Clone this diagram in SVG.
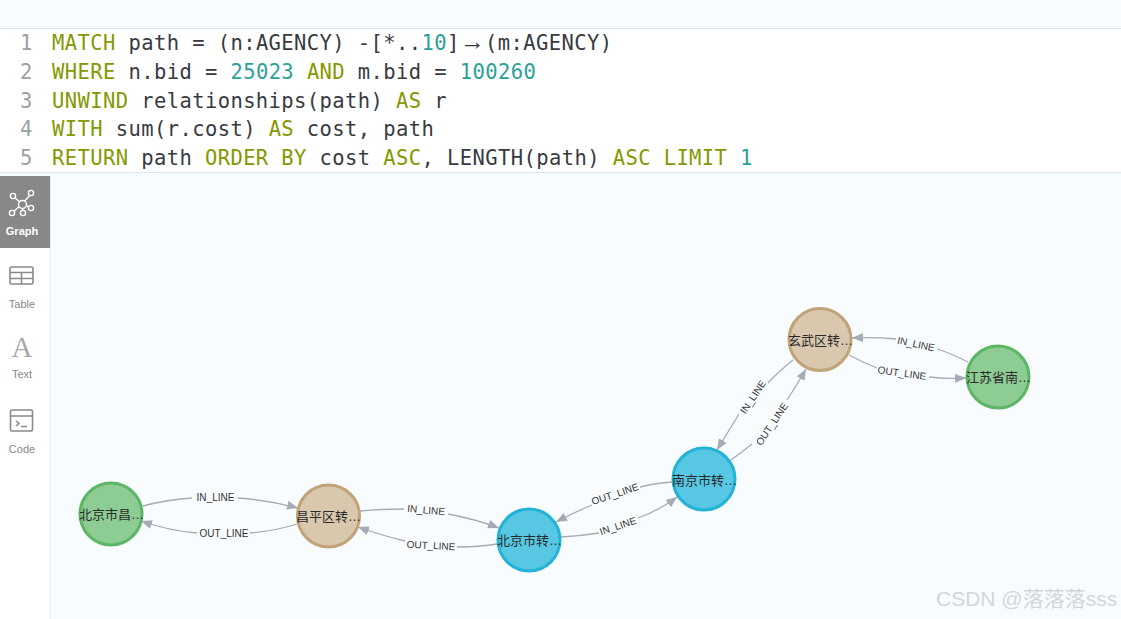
<svg xmlns="http://www.w3.org/2000/svg" width="1121" height="619" viewBox="0 0 1121 619">
<style>
.code{font-family:"DejaVu Sans Mono",monospace;font-size:20.5px;fill:#383a42;letter-spacing:.4px;white-space:pre}
.ln{font-family:"DejaVu Sans Mono",monospace;font-size:20.5px;fill:#9aa1a5}
.k{fill:#859900}.n{fill:#2aa198}
.side{font-family:"Liberation Sans",Arial,sans-serif;font-size:11px;fill:#888;text-anchor:middle}
.ic{fill:none;stroke:#8a8a8a;stroke-width:1.6}
.edge{fill:none;stroke:#a5abb6;stroke-width:1.3}
.arr{marker-end:url(#a)}
.el{font-family:"Liberation Sans",Arial,sans-serif;font-size:10px;fill:#333;text-anchor:middle;dominant-baseline:central}
.nl{font-family:"Liberation Sans","Noto Sans CJK SC",sans-serif;font-size:13px;fill:#2a2a2a;text-anchor:middle;dominant-baseline:central}
.g{fill:#8dcc93;stroke:#5db665;stroke-width:3}
.t{fill:#d9c8ae;stroke:#c0a378;stroke-width:3}
.b{fill:#57c7e3;stroke:#23b3d7;stroke-width:3}
</style>
<defs><marker id="a" markerUnits="userSpaceOnUse" markerWidth="12" markerHeight="10" refX="11" refY="5" orient="auto"><path d="M0 .5L11 5L0 9.500Z" fill="#a5abb6"/></marker></defs>
<rect width="1121" height="619" fill="#f9fcff"/>
<g id="editor">
<rect y="28" width="1121" height="144" fill="#fff"/>
<path d="M0 28.500H1121M0 172.500H1121" stroke="#dbe6f0" fill="none"/>
<text class="ln" x="20" y="50">1</text><text class="ln" x="20" y="79">2</text><text class="ln" x="20" y="108">3</text><text class="ln" x="20" y="136">4</text><text class="ln" x="20" y="165">5</text>
<text class="code" x="52" y="50"><tspan class="k">MATCH</tspan> path = (n:AGENCY) -[*..<tspan class="n">10</tspan>]<tspan x="460" font-family="Liberation Sans,sans-serif" font-size="25">→</tspan><tspan x="485">(m:AGENCY)</tspan></text>
<text class="code" x="52" y="79"><tspan class="k">WHERE</tspan> n.bid = <tspan class="n">25023</tspan> <tspan class="k">AND</tspan> m.bid = <tspan class="n">100260</tspan></text>
<text class="code" x="52" y="108"><tspan class="k">UNWIND</tspan> relationships(path) <tspan class="k">AS</tspan> r</text>
<text class="code" x="52" y="136"><tspan class="k">WITH</tspan> sum(r.cost) <tspan class="k">AS</tspan> cost, path</text>
<text class="code" x="52" y="165"><tspan class="k">RETURN</tspan> path <tspan class="k">ORDER BY</tspan> cost <tspan class="k">ASC</tspan>, LENGTH(path) <tspan class="k">ASC LIMIT</tspan> <tspan class="n">1</tspan></text>
</g>
<g id="sidebar">
<rect y="176" width="50" height="443" fill="#fff"/>
<path d="M50.500 176V619" stroke="#e6edf3"/>
<rect y="176" width="50" height="72" fill="#888"/>
<g fill="none" stroke="#fff" stroke-width="1.400">
<path d="M22 204L14 197M22 204L31 194M22 204L31 208M22 204L23 213M22 204L12 213"/>
<circle cx="22.500" cy="204.500" r="4" fill="#888"/><circle cx="13" cy="196" r="2.600" fill="#888"/><circle cx="31" cy="193" r="2.600" fill="#888"/><circle cx="31" cy="208" r="2.600" fill="#888"/><circle cx="23" cy="213" r="2.600" fill="#888"/><circle cx="12" cy="213" r="2.600" fill="#888"/>
</g>
<text class="side" x="22" y="235" style="fill:#fff;font-weight:bold">Graph</text>
<rect class="ic" x="10" y="267" width="23" height="17" rx="1.500"/>
<path class="ic" d="M10 272.500H33M10 278.500H33M21.500 272.500V284"/>
<text class="side" x="22" y="308">Table</text>
<text x="22" y="357" font-family="Liberation Serif,serif" font-size="29" fill="#a8a8a8" text-anchor="middle">A</text>
<text class="side" x="22" y="378">Text</text>
<rect class="ic" x="10.500" y="410" width="22" height="21" rx="1.500"/>
<path class="ic" d="M10.500 416H32.500M16 421L19 423.500L16 426M21 426.500H27"/>
<text class="side" x="22" y="453">Code</text>
</g>
<g id="connectors">
<path class="edge" d="M143 506Q165 500 192 498"/><path class="edge arr" d="M238 498Q268 500 298 508"/>
<path class="edge" d="M297 524Q275 531 250 533"/><path class="edge arr" d="M197 533Q170 531 141 521"/>
<path class="edge" d="M360 511Q380 509 404 509"/><path class="edge arr" d="M448 514Q475 519 499 528"/>
<path class="edge" d="M497 544Q480 547 457 547"/><path class="edge arr" d="M405 541Q380 535 358 527"/>
<path class="edge" d="M561 537Q580 536 599 533"/><path class="edge arr" d="M638 518Q660 510 677 497"/>
<path class="edge" d="M672 482Q655 483 640 487"/><path class="edge arr" d="M592 505Q575 512 556 522"/>
<path class="edge" d="M793 360Q778 372 768 383"/><path class="edge arr" d="M739 414Q728 432 717 450"/>
<path class="edge" d="M731 460Q742 452 752 444"/><path class="edge arr" d="M787 400Q797 385 806 369"/>
<path class="edge" d="M968 362Q950 353 937 349"/><path class="edge arr" d="M896 339Q875 337 852 338"/>
<path class="edge" d="M849 355Q862 362 877 368"/><path class="edge arr" d="M929 377Q945 379 966 378"/>
<text class="el" x="215.500" y="497">IN_LINE</text>
<text class="el" x="224" y="533.500">OUT_LINE</text>
<text class="el" transform="translate(426 510) rotate(5)">IN_LINE</text>
<text class="el" transform="translate(431 545.500) rotate(3)">OUT_LINE</text>
<text class="el" transform="translate(618 526) rotate(-18)">IN_LINE</text>
<text class="el" transform="translate(615 494) rotate(-18)">OUT_LINE</text>
<text class="el" transform="translate(753 397) rotate(-56)">IN_LINE</text>
<text class="el" transform="translate(772 424) rotate(-56)">OUT_LINE</text>
<text class="el" transform="translate(916 344) rotate(12)">IN_LINE</text>
<text class="el" transform="translate(902 373) rotate(8)">OUT_LINE</text>
</g>
<g id="n1"><circle class="g" cx="111" cy="514" r="31"/><text class="nl" x="111.500" y="514.500">北京市昌…</text></g>
<g id="n2"><circle class="t" cx="328.500" cy="516" r="31"/><text class="nl" x="328.500" y="516.500">昌平区转…</text></g>
<g id="n3"><circle class="b" cx="529" cy="540" r="31"/><text class="nl" x="529.500" y="540.500">北京市转…</text></g>
<g id="n4"><circle class="b" cx="704" cy="479" r="31"/><text class="nl" x="704.500" y="480">南京市转…</text></g>
<g id="n5"><circle class="t" cx="820" cy="339.500" r="31"/><text class="nl" x="820.500" y="340.500">玄武区转…</text></g>
<g id="n6"><circle class="g" cx="998" cy="377" r="31"/><text class="nl" x="998.500" y="377.500">江苏省南…</text></g>
<text x="936" y="606" font-family="Liberation Sans,Noto Sans CJK SC,sans-serif" font-size="21" fill="#d3d6d8">CSDN @落落落sss</text>
</svg>
